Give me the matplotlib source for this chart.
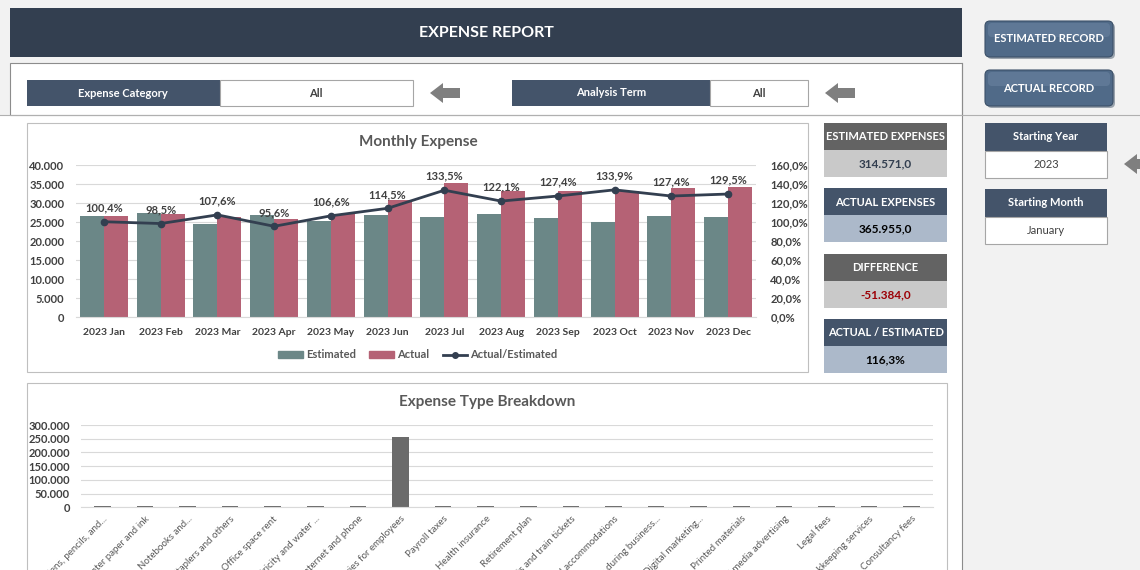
import numpy as np
import matplotlib
matplotlib.use('Agg')
import matplotlib.pyplot as plt
from matplotlib.patches import Rectangle, FancyBboxPatch, Polygon
from matplotlib.lines import Line2D
from matplotlib.ticker import FuncFormatter, MultipleLocator

plt.rcParams['font.family'] = ['Lato', 'DejaVu Sans']

months = ['2023 Jan', '2023 Feb', '2023 Mar', '2023 Apr', '2023 May', '2023 Jun',
          '2023 Jul', '2023 Aug', '2023 Sep', '2023 Oct', '2023 Nov', '2023 Dec']
estimated = [26600, 27400, 24500, 26900, 25300, 26800, 26400, 27100, 26100, 24900, 26600, 26400]
actual = [26700, 27000, 26400, 25700, 27000, 30700, 35200, 33100, 33300, 33300, 33900, 34200]
ratio = [100.4, 98.5, 107.6, 95.6, 106.6, 114.5, 133.5, 122.1, 127.4, 133.9, 127.4, 129.5]

expense_types = ['Pens, pencils, and...', 'Printer paper and ink', 'Notebooks and...',
                 'Staplers and others', 'Office space rent', 'Electricity and water ...',
                 'Internet and phone', 'Salaries for employees', 'Payroll taxes',
                 'Health insurance', 'Retirement plan', 'Flights and train tickets',
                 'Hotel accommodations', 'Meals during business...', 'Digital marketing...',
                 'Printed materials', 'Social media advertising', 'Legal fees',
                 'Bookkeeping services', 'Consultancy fees']
type_values = [5600, 5600, 5600, 5600, 5600, 5600, 5600, 258000, 5600, 5600,
               5600, 5600, 5600, 5600, 5600, 5600, 5600, 5600, 5600, 5600]

kpi_titles = ['ESTIMATED EXPENSES', 'ACTUAL EXPENSES', 'DIFFERENCE', 'ACTUAL / ESTIMATED']
kpi_values = ['314.571,0', '365.955,0', '-51.384,0', '116,3%']

W, H = 1140, 570
NAVY = '#333f50'
SLATE = '#44546a'
EST_C = '#6b8787'
ACT_C = '#b56275'
TXT = '#595959'


def fr(x0, y0, x1, y1):
    return [x0 / W, 1 - y1 / H, (x1 - x0) / W, (y1 - y0) / H]


def thousands(v, pos=None):
    return f'{v:,.0f}'.replace(',', '.')


fig = plt.figure(figsize=(W / 100, H / 100), dpi=100, facecolor='#f2f2f2')

# background layer in pixel coordinates
bg = fig.add_axes([0, 0, 1, 1], zorder=0)
bg.set_xlim(0, W)
bg.set_ylim(H, 0)
bg.axis('off')
bg.set_facecolor('none')


def box(x0, y0, x1, y1, fc, ec='none', lw=0.8, z=1):
    bg.add_patch(Rectangle((x0, y0), x1 - x0, y1 - y0, fc=fc, ec=ec, lw=lw, zorder=z))


def arrow(x, y):
    pts = [(x, y), (x + 13, y - 10), (x + 13, y - 5), (x + 30, y - 5),
           (x + 30, y + 5), (x + 13, y + 5), (x + 13, y + 10)]
    bg.add_patch(Polygon(pts, closed=True, fc='#7f7f7f', ec='none', zorder=3))


# panels
box(0, 115, 962, H, 'white')
box(10, 63, 962, 115, 'white', ec='#8c8c8c', lw=0.8)
bg.plot([962, 962], [63, H], color='#8c8c8c', lw=0.8, zorder=2)
bg.plot([0, W], [115, 115], color='#b0b0b0', lw=0.8, zorder=2)

# title banner
box(10, 8, 962, 57, NAVY)
bg.text(486, 33, 'EXPENSE REPORT', color='white', fontsize=11.5, fontweight='bold',
        ha='center', va='center', zorder=3)

# filters
box(27, 80, 220, 106, SLATE, z=2)
box(220, 80, 413, 106, 'white', ec='#a6a6a6', z=2)
bg.text(123, 93.5, 'Expense Category', color='white', fontsize=8, fontweight='bold',
        ha='center', va='center', zorder=3)
bg.text(316, 93.5, 'All', color='#404040', fontsize=8, fontweight='bold',
        ha='center', va='center', zorder=3)
arrow(430, 93)
box(512, 80, 710, 106, SLATE, z=2)
box(710, 80, 808, 106, 'white', ec='#a6a6a6', z=2)
bg.text(611, 93, 'Analysis Term', color='white', fontsize=8, fontweight='bold',
        ha='center', va='center', zorder=3)
bg.text(759, 93.5, 'All', color='#404040', fontsize=8, fontweight='bold',
        ha='center', va='center', zorder=3)
arrow(825, 93)

# buttons
for y0, label in [(21, 'ESTIMATED RECORD'), (70, 'ACTUAL RECORD')]:
    bg.add_patch(FancyBboxPatch((987, y0 + 2), 128, 36, boxstyle='round,pad=0,rounding_size=5',
                                fc='#9aa3ad', ec='none', zorder=2))
    bg.add_patch(FancyBboxPatch((985, y0), 128, 36, boxstyle='round,pad=0,rounding_size=5',
                                fc='#506a88', ec='#3b5068', lw=0.8, zorder=3))
    bg.add_patch(FancyBboxPatch((988, y0 + 2), 122, 14, boxstyle='round,pad=0,rounding_size=4',
                                fc='#6a83a0', ec='none', alpha=0.6, zorder=3))
    bg.text(1049, y0 + 18, label, color='white', fontsize=8, fontweight='bold',
            ha='center', va='center', zorder=4)

# KPI cards
kpi_head = ['#636363', SLATE, '#636363', SLATE]
kpi_body = ['#c9c9c9', '#acb9ca', '#c9c9c9', '#acb9ca']
kpi_txt = [NAVY, 'black', '#9c0006', 'black']
for i in range(4):
    y0 = 123 + i * 65.3
    box(824, y0, 947, y0 + 27, kpi_head[i], z=2)
    box(824, y0 + 27, 947, y0 + 54, kpi_body[i], z=2)
    bg.text(885.5, y0 + 14, kpi_titles[i], color='white', fontsize=8, fontweight='bold',
            ha='center', va='center', zorder=3)
    bg.text(885.5, y0 + 41, kpi_values[i], color=kpi_txt[i], fontsize=8.5, fontweight='bold',
            ha='center', va='center', zorder=3)

# starting year / month
for y0, head, val in [(123, 'Starting Year', '2023'), (189, 'Starting Month', 'January')]:
    box(985, y0, 1107, y0 + 28, SLATE, z=2)
    box(985, y0 + 28, 1107, y0 + 55, 'white', ec='#a6a6a6', z=2)
    bg.text(1046, y0 + 14, head, color='white', fontsize=8, fontweight='bold',
            ha='center', va='center', zorder=3)
    bg.text(1046, y0 + 41.5, val, color='#404040', fontsize=8,
            ha='center', va='center', zorder=3)
arrow(1124, 164)

# chart frames
box(27, 123, 808, 372, 'white', ec='#bfbfbf', z=1)
box(27, 383, 947, 580, 'white', ec='#bfbfbf', z=1)
bg.text(418, 142, 'Monthly Expense', color=TXT, fontsize=11, fontweight='bold',
        ha='center', va='center', zorder=3)
bg.text(487, 402, 'Expense Type Breakdown', color=TXT, fontsize=11, fontweight='bold',
        ha='center', va='center', zorder=3)

# ---- monthly expense chart ----
ax = fig.add_axes(fr(75.6, 165, 756.4, 317.3), zorder=2)
ax.set_facecolor('none')
x = np.arange(len(months))
bw = 0.423
ax.bar(x - bw / 2, estimated, bw, color=EST_C, zorder=2, label='Estimated')
ax.bar(x + bw / 2, actual, bw, color=ACT_C, zorder=2, label='Actual')
ax.set_xlim(-0.5, len(months) - 0.5)
ax.set_ylim(0, 40000)
ax.yaxis.set_major_locator(MultipleLocator(5000))
ax.yaxis.set_major_formatter(FuncFormatter(thousands))
ax.grid(axis='y', color='#d9d9d9', lw=0.8, zorder=0)
ax.set_xticks(x)
ax.set_xticklabels(months, fontsize=7.5, fontweight='bold', color='#404040')
for s in ['top', 'left', 'right']:
    ax.spines[s].set_visible(False)
ax.spines['bottom'].set_color('#d9d9d9')
ax.tick_params(axis='both', length=0)
ax.tick_params(axis='x', pad=8)
ax.tick_params(axis='y', labelsize=8, labelcolor='#404040', pad=8)
for t in ax.get_yticklabels():
    t.set_fontweight('bold')

ax2 = ax.twinx()
ax2.plot(x, ratio, color=NAVY, lw=2, marker='o', ms=4.5, zorder=3, label='Actual/Estimated')
ax2.set_ylim(0, 160)
ax2.yaxis.set_major_locator(MultipleLocator(20))
ax2.yaxis.set_major_formatter(FuncFormatter(lambda v, p: f'{v:.1f}%'.replace('.', ',')))
for s in ['top', 'left', 'right', 'bottom']:
    ax2.spines[s].set_visible(False)
ax2.tick_params(axis='y', length=0, labelsize=8, labelcolor='#404040', pad=10)
for t in ax2.get_yticklabels():
    t.set_fontweight('bold')
for xi, r in zip(x, ratio):
    ax2.annotate(f'{r:.1f}%'.replace('.', ','), (xi, r), xytext=(0, 10),
                 textcoords='offset points', ha='center', va='center',
                 fontsize=8, fontweight='bold', color='#404040', zorder=4)

handles = [Rectangle((0, 0), 1, 1, color=EST_C), Rectangle((0, 0), 1, 1, color=ACT_C),
           Line2D([], [], color=NAVY, lw=2, marker='o', ms=4)]
leg = fig.legend(handles, ['Estimated', 'Actual', 'Actual/Estimated'], loc='center',
                 bbox_to_anchor=(418 / W, 1 - 355 / H), ncol=3, frameon=False,
                 fontsize=8, handlelength=2.2, handleheight=0.6, columnspacing=1.2,
                 handletextpad=0.3)
for t in leg.get_texts():
    t.set_color(TXT)
    t.set_fontweight('bold')

# ---- expense type breakdown ----
bx = fig.add_axes(fr(81, 425, 933, 507.3), zorder=2)
bx.set_facecolor('none')
xt = np.arange(len(expense_types))
bx.bar(xt, type_values, 0.39, color='#6b6b6b', zorder=2)
bx.set_xlim(-0.5, len(expense_types) - 0.5)
bx.set_ylim(0, 300000)
bx.yaxis.set_major_locator(MultipleLocator(50000))
bx.yaxis.set_major_formatter(FuncFormatter(thousands))
bx.grid(axis='y', color='#d9d9d9', lw=0.8, zorder=0)
for s in ['top', 'left', 'right']:
    bx.spines[s].set_visible(False)
bx.spines['bottom'].set_color('#d9d9d9')
bx.tick_params(axis='both', length=0)
bx.tick_params(axis='y', labelsize=8, labelcolor='#404040', pad=8)
for t in bx.get_yticklabels():
    t.set_fontweight('bold')
bx.set_xticks(xt)
bx.set_xticklabels(expense_types, rotation=45, ha='right', rotation_mode='anchor',
                   fontsize=7, color=TXT)
bx.tick_params(axis='x', pad=5)

fig.savefig('out.png', dpi=100, facecolor=fig.get_facecolor())
